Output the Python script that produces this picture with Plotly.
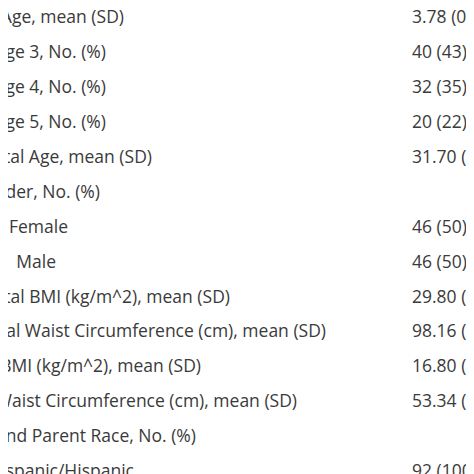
import plotly.graph_objects as go

labels = ["Child Age, mean (SD)", "Age 3, No. (%)", "Age 4, No. (%)", "Age 5, No. (%)",
          "Parental Age, mean (SD)", "Parent Gender, No. (%)", "Female", "Male",
          "Parental BMI (kg/m^2), mean (SD)", "Parental Waist Circumference (cm), mean (SD)",
          "Child BMI (kg/m^2), mean (SD)", "Child Waist Circumference (cm), mean (SD)",
          "Child and Parent Race, No. (%)", "Non-Hispanic/Hispanic"]
values = ["3.78 (0.80)", "40 (43)", "32 (35)", "20 (22)", "31.70 (6.10)", "", "46 (50)", "46 (50)",
          "29.80 (6.50)", "98.16 (15.20)", "16.80 (2.10)", "53.34 (6.20)", "", "92 (100)"]
label_ends = [116, 98, 98, 98, 144, 92, 60, 48, 222, 318, 193, 289, 188, 126]

rows = list(range(len(labels)))
ys = [11 + 34.9 * r for r in rows]

fig = go.Figure()
fig.add_trace(go.Scatter(x=label_ends, y=ys, mode="text", text=labels, textposition="middle left",
                         textfont=dict(family="Open Sans", size=17.5, color="#3a3a3a"), cliponaxis=True,
                         hoverinfo="skip"))
fig.add_trace(go.Scatter(x=[404] * len(values), y=ys, mode="text", text=values, textposition="middle right",
                         textfont=dict(family="Open Sans", size=17.5, color="#3a3a3a"), cliponaxis=True,
                         hoverinfo="skip"))
fig.update_layout(width=474, height=474, margin=dict(l=0, r=0, t=0, b=0), showlegend=False,
                  plot_bgcolor="white", paper_bgcolor="white",
                  xaxis=dict(range=[0, 474], visible=False, fixedrange=True),
                  yaxis=dict(range=[474, 0], visible=False, fixedrange=True))
fig.write_html("out.html")
